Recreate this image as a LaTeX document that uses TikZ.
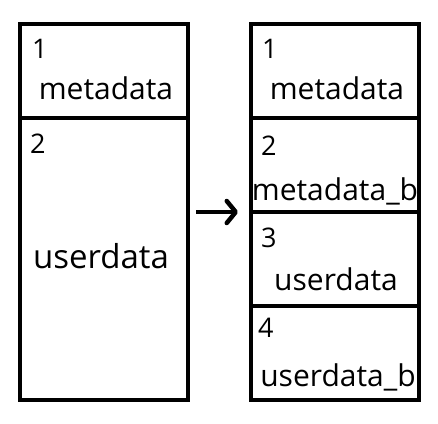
\documentclass[tikz,border=0pt]{standalone}
\usepackage{fontspec}
\setmainfont{Open Sans}
\usepackage{tikz}
\usetikzlibrary{positioning,arrows.meta}

\begin{document}
\begin{tikzpicture}[x=1pt, y=-1pt, node distance=0mm,
  cell/.style={draw, line width=4pt, minimum width=168pt, inner sep=0pt, outer sep=0pt},
  num/.style={font=\fontsize{27}{32}\selectfont, anchor=base west, inner sep=0pt},
  word/.style={font=\fontsize{30}{36}\selectfont, anchor=base, inner sep=0pt},
  arr/.style={-{Straight Barb[length=9pt,width=22pt,line width=4.5pt,round]}, line width=4.5pt}]
\useasboundingbox (0,0) rectangle (438,423);
% before
\node[cell, minimum height=94pt, anchor=north west] (lmeta) at (20,24) {};
\node[cell, minimum height=282pt, below=0mm of lmeta] (lbody) {};
% after
\node[cell, minimum height=94pt, anchor=north west] (rmeta) at (251,24) {};
\node[cell, minimum height=94pt, below=0mm of rmeta] (rmetab) {};
\node[cell, minimum height=94pt, below=0mm of rmetab] (rbody) {};
\node[cell, minimum height=94pt, below=0mm of rbody] (rbodyb) {};
% labels
\node[num] (n1l) at (32,58) {1};
\node[word] (w1l) at (106,99) {metadata};
\node[num] (n2l) at (30,153) {2};
\node[word, font=\fontsize{33}{40}\selectfont] (w2l) at (101,268) {userdata};
\node[num] (n1r) at (262,58) {1};
\node[word] (w1r) at (337,99) {metadata};
\node[num] (n2r) at (261,155) {2};
\node[word] (w2r) at (335,200) {metadata\_b};
\node[num] (n3r) at (261,247) {3};
\node[word] (w3r) at (336,290) {userdata};
\node[num] (n4r) at (258,337) {4};
\node[word] (w4r) at (338,386) {userdata\_b};
\draw[arr, shorten <=8pt, shorten >=13pt] (lbody.east |- rmetab.south west) -- (rmetab.south west);
\end{tikzpicture}
\end{document}
